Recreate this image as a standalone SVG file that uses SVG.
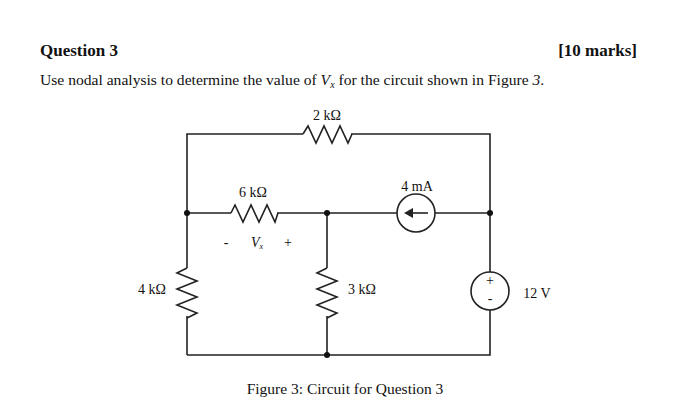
<svg xmlns="http://www.w3.org/2000/svg" width="700" height="412" viewBox="0 0 700 412">
<style>
text{font-family:"Liberation Serif",serif;fill:#111}
.w{stroke:#222;stroke-width:1.6;fill:none}
.l{font-size:14px;text-anchor:middle}
</style>
<rect width="700" height="412" fill="#fff"/>
<text x="40" y="56" font-size="17" font-weight="bold">Question 3</text>
<text x="637" y="56" font-size="17" font-weight="bold" text-anchor="end">[10 marks]</text>
<text x="40" y="85" font-size="15.6">Use nodal analysis to determine the value of <tspan font-style="italic">V<tspan font-size="10" dy="3">x</tspan></tspan><tspan dy="-3"> for the circuit shown in Figure </tspan><tspan font-style="italic">3</tspan>.</text>
<g id="wires" class="w">
<path d="M187,355V316M187,268V134H303M351,134H490V272M490,310V355H187"/>
<path d="M187,213H231M277,213H397M435,213H490M327,213V268M327,316V355"/>
</g>
<g id="r2k"><path class="w" d="M303,134l5,-8l8,17l8,-17l8,17l8,-17l8,17l4,-9"/><text class="l" x="327" y="120">2 kΩ</text></g>
<g id="r6k"><path class="w" d="M231,213l4,-8l8,17l8,-17l8,17l8,-17l8,17l3,-9"/><text class="l" x="253" y="197">6 kΩ</text></g>
<g id="r4k"><path class="w" d="M187,268l-10,5l20,8l-20,8l20,8l-20,8l20,8l-10,5"/><text class="l" x="152" y="294">4 kΩ</text></g>
<g id="r3k"><path class="w" d="M327,268l-10,5l20,8l-20,8l20,8l-20,8l20,8l-10,5"/><text class="l" x="362" y="294">3 kΩ</text></g>
<g id="isrc"><circle class="w" cx="416" cy="213" r="19"/><path class="w" d="M428,213H410"/><path d="M404,213l9,-5v10z" fill="#222"/><text class="l" x="417" y="191">4 mA</text></g>
<g id="vsrc"><circle class="w" cx="490" cy="291" r="19"/><text class="l" x="490" y="285" font-size="10">+</text><text class="l" x="490" y="303" font-size="11">-</text><text class="l" x="537" y="298">12 V</text></g>
<g id="vx"><text class="l" x="226" y="247">-</text><text class="l" x="257" y="247" font-style="italic">V<tspan font-size="8" dy="2">x</tspan></text><text class="l" x="288" y="247">+</text></g>
<g id="dots" fill="#111"><circle cx="187" cy="213" r="3"/><circle cx="327" cy="213" r="3"/><circle cx="490" cy="213" r="3"/><circle cx="327" cy="355" r="3"/></g>
<text x="345" y="394" font-size="15.5" text-anchor="middle">Figure 3: Circuit for Question 3</text>
</svg>
